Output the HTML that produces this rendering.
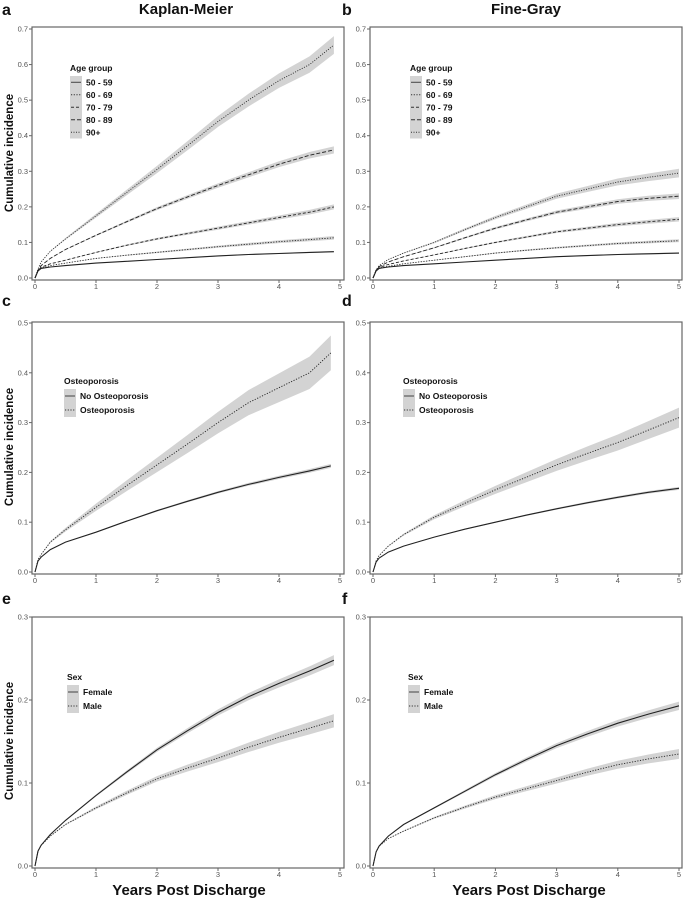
<!DOCTYPE html>
<html><head><meta charset="utf-8"><style>
body{margin:0;background:#fff;}
svg{display:block;font-family:"Liberation Sans",sans-serif;}
</style></head><body>
<svg id="fig" width="685" height="902" viewBox="0 0 685 902"></svg>
<script>
// ---- data ----
const tA = [0,0.05,0.1,0.25,0.5,1,1.5,2,2.5,3,3.5,4,4.5,4.9];
const kmAge5059 = [0,0.02,0.027,0.031,0.035,0.042,0.047,0.052,0.057,0.062,0.066,0.069,0.072,0.074];
const kmAge6069 = [0,0.02,0.028,0.035,0.042,0.055,0.064,0.072,0.080,0.088,0.095,0.102,0.108,0.113];
const kmAge7079 = [0,0.021,0.03,0.04,0.05,0.072,0.092,0.11,0.125,0.14,0.155,0.17,0.185,0.2];
const kmAge8089 = [0,0.022,0.035,0.055,0.08,0.12,0.158,0.195,0.228,0.26,0.29,0.32,0.345,0.36];
const kmAge90 = [0,0.025,0.045,0.075,0.11,0.175,0.24,0.305,0.372,0.44,0.5,0.555,0.6,0.655];
const tB = [0,0.05,0.1,0.25,0.5,1,1.5,2,2.5,3,3.5,4,4.5,5];
const fgAge5059 = [0,0.02,0.027,0.031,0.035,0.04,0.045,0.05,0.055,0.06,0.063,0.066,0.068,0.07];
const fgAge6069 = [0,0.02,0.028,0.033,0.04,0.05,0.06,0.07,0.078,0.085,0.091,0.097,0.101,0.105];
const fgAge7079 = [0,0.021,0.03,0.038,0.048,0.065,0.083,0.1,0.115,0.13,0.14,0.15,0.158,0.165];
const fgAge8089 = [0,0.022,0.032,0.045,0.06,0.085,0.113,0.14,0.163,0.185,0.2,0.215,0.224,0.23];
const fgAge90 = [0,0.023,0.035,0.052,0.07,0.1,0.136,0.17,0.2,0.23,0.25,0.27,0.283,0.295];
const tC = [0,0.05,0.1,0.25,0.5,1,1.5,2,2.5,3,3.5,4,4.5,4.85];
const kmNoOst = [0,0.022,0.03,0.045,0.06,0.08,0.102,0.123,0.142,0.16,0.176,0.19,0.203,0.213];
const kmOst = [0,0.025,0.035,0.06,0.085,0.13,0.173,0.215,0.257,0.3,0.34,0.37,0.4,0.44];
const fgNoOst = [0,0.02,0.028,0.04,0.052,0.07,0.086,0.1,0.114,0.127,0.139,0.15,0.16,0.168];
const fgOst = [0,0.022,0.033,0.052,0.075,0.11,0.138,0.165,0.19,0.215,0.238,0.26,0.285,0.31];
const kmFemale = [0,0.018,0.025,0.038,0.055,0.085,0.113,0.14,0.163,0.185,0.204,0.22,0.235,0.248];
const kmMale = [0,0.018,0.025,0.036,0.05,0.07,0.088,0.105,0.118,0.13,0.143,0.155,0.166,0.175];
const fgFemale = [0,0.017,0.024,0.036,0.05,0.07,0.09,0.11,0.128,0.145,0.159,0.172,0.183,0.193];
const fgMale = [0,0.017,0.024,0.033,0.042,0.058,0.071,0.083,0.093,0.103,0.113,0.122,0.129,0.135];
const xTicks = [0,1,2,3,4,5];

const NS = "http://www.w3.org/2000/svg";
const svg = document.getElementById('fig');
function mk(tag, attrs, parent){const e=document.createElementNS(NS,tag);for(const k in attrs)e.setAttribute(k,attrs[k]);(parent||svg).appendChild(e);return e;}
function txt(s, attrs, parent){const e=mk('text',attrs,parent);e.textContent=s;return e;}

const dashes = ['', '1.2,1.5', '3,2', '4,2', '1,1.5'];

function panel(o){
  const g = mk('g',{});
  
  
  const X = v => o.x0 + (v/5)*(o.x1-o.x0);
  const Y = v => o.y0 - (v/o.ymax)*(o.y0-o.ytop);
  const fr = mk('rect',{x:o.fx, y:o.ytopFrame, width:o.fw, height:o.y0+2-o.ytopFrame, fill:'none', stroke:'#666','stroke-width':1.2}, g);
  
  
  // y ticks
  o.yTicks.forEach(v=>{
    mk('line',{x1:o.fx-3,x2:o.fx,y1:Y(v),y2:Y(v),stroke:'#666'},g);
    const t = txt(v.toFixed(1),{x:o.fx-4,y:Y(v)+2.5,'font-size':7.5,fill:'#555','text-anchor':'end'},g);
    
    
  });
  xTicks.forEach(v=>{
    mk('line',{x1:X(v),x2:X(v),y1:o.y0+2,y2:o.y0+5,stroke:'#666'},g);
    const t = txt(String(v),{x:X(v),y:o.y0+11,'font-size':7.5,fill:'#555','text-anchor':'middle'},g);
    
    
  });
  // bands
  o.series.forEach(s=>{
    const up=[],lo=[];
    s.v.forEach((v,i)=>{const w=s.ci*(o.t[i]/o.t[o.t.length-1]);up.push(X(o.t[i])+','+Y(v+w));lo.unshift(X(o.t[i])+','+Y(Math.max(0,v-w)));});
    const p = mk('polygon',{points:up.concat(lo).join(' '),fill:'#d3d3d3'},g);
    
    
  });
  o.series.forEach((s,k)=>{
    const d = s.v.map((v,i)=>(i?'L':'M')+X(o.t[i]).toFixed(1)+','+Y(v).toFixed(1)).join('');
    const p = mk('path',{d:d,fill:'none',stroke:'#222','stroke-width':s.dash?0.9:1.1,'stroke-dasharray':s.dash||'none'},g);
    
    
  });
  // legend
  const lg = mk('g',{},g);
  
  
  txt(o.legTitle,{x:o.lx,y:o.ly,'font-size':8.5,'font-weight':'bold',fill:'#111'},lg);
  o.series.forEach((s,i)=>{
    const yy=o.ly+5+i*o.lstep;
    mk('rect',{x:o.lx,y:yy,width:12,height:o.lstep,fill:'#d3d3d3'},lg);
    mk('line',{x1:o.lx+1,x2:o.lx+11,y1:yy+o.lstep/2,y2:yy+o.lstep/2,stroke:'#333','stroke-width':0.9,'stroke-dasharray':s.dash||'none'},lg);
    const t=txt(s.label,{x:o.lx+16,y:yy+o.lstep/2+3,'font-size':8.5,'font-weight':'bold',fill:'#111'},lg);
    
    
  });
}
const ageLabels=['50 - 59','60 - 69','70 - 79','80 - 89','90+'];
const L={x0:35,x1:340,fx:32,fw:312};
const R={x0:373,x1:679,fx:370,fw:312};
panel(Object.assign({name:'panel-a-km-age',y0:278,ytop:29,ytopFrame:27,ymax:0.7,yTicks:[0,0.1,0.2,0.3,0.4,0.5,0.6,0.7],t:tA,
 series:[kmAge5059,kmAge6069,kmAge7079,kmAge8089,kmAge90].map((v,i)=>({v:v,dash:dashes[i],label:ageLabels[i],ci:[0.002,0.005,0.007,0.01,0.025][i]})),
 legTitle:'Age group',lx:70,ly:71,lstep:12.5},L));
panel(Object.assign({name:'panel-b-fg-age',y0:278,ytop:29,ytopFrame:27,ymax:0.7,yTicks:[0,0.1,0.2,0.3,0.4,0.5,0.6,0.7],t:tB,
 series:[fgAge5059,fgAge6069,fgAge7079,fgAge8089,fgAge90].map((v,i)=>({v:v,dash:dashes[i],label:ageLabels[i],ci:[0.002,0.004,0.006,0.008,0.012][i]})),
 legTitle:'Age group',lx:410,ly:71,lstep:12.5},R));
panel(Object.assign({name:'panel-c-km-osteoporosis',y0:572,ytop:323,ytopFrame:322,ymax:0.5,yTicks:[0,0.1,0.2,0.3,0.4,0.5],t:tC,
 series:[{v:kmNoOst,dash:'',label:'No Osteoporosis',ci:0.004},{v:kmOst,dash:'1.2,1.5',label:'Osteoporosis',ci:0.035}],
 legTitle:'Osteoporosis',lx:64,ly:384,lstep:14},L));
panel(Object.assign({name:'panel-d-fg-osteoporosis',y0:572,ytop:323,ytopFrame:322,ymax:0.5,yTicks:[0,0.1,0.2,0.3,0.4,0.5],t:tB,
 series:[{v:fgNoOst,dash:'',label:'No Osteoporosis',ci:0.003},{v:fgOst,dash:'1.2,1.5',label:'Osteoporosis',ci:0.02}],
 legTitle:'Osteoporosis',lx:403,ly:384,lstep:14},R));
panel(Object.assign({name:'panel-e-km-sex',y0:866,ytop:617,ytopFrame:617,ymax:0.3,yTicks:[0,0.1,0.2,0.3],t:tA,
 series:[{v:kmFemale,dash:'',label:'Female',ci:0.006},{v:kmMale,dash:'1.2,1.5',label:'Male',ci:0.008}],
 legTitle:'Sex',lx:67,ly:680,lstep:14},L));
panel(Object.assign({name:'panel-f-fg-sex',y0:866,ytop:617,ytopFrame:617,ymax:0.3,yTicks:[0,0.1,0.2,0.3],t:tB,
 series:[{v:fgFemale,dash:'',label:'Female',ci:0.005},{v:fgMale,dash:'1.2,1.5',label:'Male',ci:0.006}],
 legTitle:'Sex',lx:408,ly:680,lstep:14},R));

function label(s,attrs,name){const t=txt(s,attrs);}
label('Kaplan-Meier',{x:186,y:14,'font-size':15,'font-weight':'bold','text-anchor':'middle',fill:'#111'},'title-kaplan-meier');
label('Fine-Gray',{x:526,y:14,'font-size':15,'font-weight':'bold','text-anchor':'middle',fill:'#111'},'title-fine-gray');
[['a',2,15],['b',342,15],['c',2,306],['d',342,306],['e',2,604],['f',342,604]].forEach(p=>label(p[0],{x:p[1],y:p[2],'font-size':16,'font-weight':'bold',fill:'#111'},'panel-letter-'+p[0]));
[[153],[447],[741]].forEach((p,i)=>label('Cumulative incidence',{x:0,y:0,transform:'translate(13,'+p[0]+') rotate(-90)','font-size':11.5,'font-weight':'bold','text-anchor':'middle',fill:'#111'},'y-axis-title'));
label('Years Post Discharge',{x:189,y:895,'font-size':15,'font-weight':'bold','text-anchor':'middle',fill:'#111'},'x-axis-title-left');
label('Years Post Discharge',{x:529,y:895,'font-size':15,'font-weight':'bold','text-anchor':'middle',fill:'#111'},'x-axis-title-right');
</script>
</body></html>
